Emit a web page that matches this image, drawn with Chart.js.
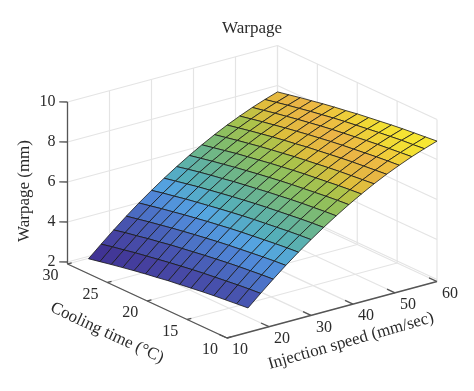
<!DOCTYPE html>
<html lang="en">
<head>
  <meta charset="UTF-8">
  <title>Warpage</title>
  <script src="https://cdn.jsdelivr.net/npm/chart.js"></script>
  <style>
    html, body { margin:0; padding:0; background:#fff; }
    canvas { display:block; }
  </style>
</head>
<body>
<canvas id="surface" width="474" height="391"></canvas>

<script>
// Axis ticks
const injectionTicks = [10, 20, 30, 40, 50, 60];
const coolingTicks = [10, 15, 20, 25, 30];
const warpageTicks = [2, 4, 6, 8, 10];

// Surface grid, values
const injectionSpeed = [15, 18, 21, 24, 27, 30, 33, 36, 39, 42, 45, 48, 51, 54, 57, 60];
const coolingTime = [30, 28.57, 27.14, 25.71, 24.29, 22.86, 21.43, 20, 18.57, 17.14, 15.71, 14.29, 12.86, 11.43, 10];
const warpage = [
  [1.88,2.44,2.98,3.50,3.99,4.45,4.89,5.30,5.69,6.05,6.39,6.70,6.98,7.24,7.47,7.68],
  [2.00,2.57,3.11,3.62,4.11,4.58,5.01,5.43,5.81,6.17,6.51,6.82,7.10,7.36,7.59,7.80],
  [2.12,2.68,3.22,3.74,4.23,4.69,5.13,5.55,5.93,6.29,6.63,6.94,7.22,7.48,7.71,7.92],
  [2.23,2.80,3.34,3.85,4.34,4.81,5.25,5.66,6.04,6.41,6.74,7.05,7.33,7.59,7.82,8.03],
  [2.34,2.90,3.44,3.96,4.45,4.91,5.35,5.76,6.15,6.51,6.85,7.16,7.44,7.70,7.93,8.14],
  [2.44,3.00,3.55,4.06,4.55,5.01,5.45,5.87,6.25,6.61,6.95,7.26,7.54,7.80,8.03,8.24],
  [2.53,3.10,3.64,4.16,4.65,5.11,5.55,5.96,6.35,6.71,7.04,7.35,7.64,7.90,8.13,8.33],
  [2.63,3.19,3.73,4.25,4.74,5.20,5.64,6.05,6.44,6.80,7.14,7.45,7.73,7.99,8.22,8.43],
  [2.71,3.28,3.82,4.34,4.83,5.29,5.73,6.14,6.53,6.89,7.22,7.53,7.82,8.07,8.30,8.51],
  [2.79,3.36,3.90,4.42,4.91,5.37,5.81,6.22,6.61,6.97,7.30,7.61,7.90,8.15,8.38,8.59],
  [2.87,3.43,3.98,4.49,4.98,5.44,5.88,6.30,6.68,7.04,7.38,7.69,7.97,8.23,8.46,8.67],
  [2.94,3.50,4.05,4.56,5.05,5.51,5.95,6.37,6.75,7.11,7.45,7.76,8.04,8.30,8.53,8.74],
  [3.00,3.57,4.11,4.63,5.12,5.58,6.02,6.43,6.82,7.18,7.51,7.82,8.11,8.36,8.60,8.80],
  [3.06,3.63,4.17,4.69,5.18,5.64,6.08,6.49,6.88,7.24,7.57,7.88,8.17,8.42,8.65,8.86],
  [3.12,3.68,4.22,4.74,5.23,5.69,6.13,6.54,6.93,7.29,7.63,7.94,8.22,8.48,8.71,8.92]
];

// Colour by height: parula with the orange glare of the lit part
const colourHeights = [1.9, 2.7, 3.5, 4.3, 4.8, 5.3, 5.9, 6.5, 7.0, 7.35, 7.9, 8.2, 8.5, 9];
const colourStops = [
  [60,42,140],[70,65,160],[72,90,180],[80,135,215],[85,165,225],[85,175,185],[105,180,145],
  [135,190,100],[170,195,75],[222,190,60],[235,180,70],[238,200,60],[242,222,52],[250,238,48]
];

const zFloor = 1.9, zTop = 10;

// Orthographic view of the box, measured from the corner inj=10 / cool=10 / floor
function project(inj, cool, z) {
  const a = (inj - 10) / 50, b = (cool - 10) / 20;
  return {
    x: 227 + a * 210 - b * 159.5,
    y: 338 - a * 56.5 - b * 74 - (z - zFloor) * 20
  };
}

function colourFor(z) {
  let i = 0;
  while (i < colourHeights.length - 2 && z > colourHeights[i + 1]) i++;
  const t = Math.min(1, Math.max(0, (z - colourHeights[i]) / (colourHeights[i + 1] - colourHeights[i])));
  const c = colourStops[i].map((v, k) => Math.round(v + (colourStops[i + 1][k] - v) * t));
  return `rgb(${c[0]},${c[1]},${c[2]})`;
}

function line(a, b, colour, width, order) {
  return { data:[a, b], showLine:true, fill:false, borderColor:colour, borderWidth:width, pointRadius:0, order };
}

const datasets = [];
const gridColour = '#e4e4e4', axisColour = '#555';

// Box grid
warpageTicks.forEach(z => {
  datasets.push(line(project(10, 30, z), project(60, 30, z), gridColour, 1.2, 10));
  datasets.push(line(project(60, 30, z), project(60, 10, z), gridColour, 1.2, 10));
});
injectionTicks.forEach(v => {
  datasets.push(line(project(v, 30, zFloor), project(v, 30, zTop), gridColour, 1.2, 10));
  datasets.push(line(project(v, 10, zFloor), project(v, 30, zFloor), gridColour, 1.2, 10));
});
coolingTicks.forEach(c => {
  datasets.push(line(project(60, c, zFloor), project(60, c, zTop), gridColour, 1.2, 10));
  datasets.push(line(project(10, c, zFloor), project(60, c, zFloor), gridColour, 1.2, 10));
});

// Surface cells, far ones first
for (let j = 0; j < coolingTime.length - 1; j++) {
  for (let i = injectionSpeed.length - 2; i >= 0; i--) {
    const z = (warpage[j][i] + warpage[j][i+1] + warpage[j+1][i] + warpage[j+1][i+1]) / 4;
    const p = project(injectionSpeed[i], coolingTime[j], warpage[j][i]);
    datasets.push({
      data: [
        p,
        project(injectionSpeed[i+1], coolingTime[j], warpage[j][i+1]),
        project(injectionSpeed[i+1], coolingTime[j+1], warpage[j+1][i+1]),
        project(injectionSpeed[i], coolingTime[j+1], warpage[j+1][i]),
        p
      ],
      showLine: true,
      fill: 'shape',
      backgroundColor: colourFor(z),
      borderColor: 'rgba(25,25,25,.8)',
      borderWidth: 1,
      pointRadius: 0,
      order: 5 - j * 0.1 - (15 - i) * 0.001
    });
  }
}

// Axes and their tick marks
datasets.push(line(project(10, 30, zFloor), project(10, 30, zTop), axisColour, 1.3, 1));
datasets.push(line(project(10, 30, zFloor), project(10, 10, zFloor), axisColour, 1.3, 1));
datasets.push(line(project(10, 10, zFloor), project(60, 10, zFloor), axisColour, 1.3, 1));
warpageTicks.forEach(z => datasets.push(line(project(10, 30, z), project(8.8, 30.4, z), axisColour, 1.3, 1)));
injectionTicks.forEach(v => datasets.push(line(project(v, 10, zFloor), project(v, 11, zFloor), axisColour, 1.3, 1)));
coolingTicks.forEach(c => datasets.push(line(project(10, c, zFloor), project(11, c, zFloor), axisColour, 1.3, 1)));

// Tick labels and axis titles go on top, the scales are only used for mapping
const textPlugin = {
  id: 'boxText',
  afterDraw(chart) {
    const ctx = chart.ctx, xs = chart.scales.x, ys = chart.scales.y;
    const put = (text, x, y, size, angle, align) => {
      ctx.save();
      ctx.translate(xs.getPixelForValue(x), ys.getPixelForValue(y));
      ctx.rotate((angle || 0) * Math.PI / 180);
      ctx.font = `${size}px "Liberation Serif", serif`;
      ctx.fillStyle = '#2b2b2b';
      ctx.textAlign = align || 'center';
      ctx.textBaseline = 'middle';
      ctx.fillText(text, 0, 0);
      ctx.restore();
    };
    warpageTicks.forEach(z => {
      const p = project(10, 30, z);
      put(String(z), p.x - 12, p.y, 16, 0, 'right');
    });
    injectionTicks.forEach(v => {
      const p = project(v, 10, zFloor);
      put(String(v), p.x + 13, p.y + 12, 16);
    });
    coolingTicks.forEach(c => {
      const p = project(10, c, zFloor);
      put(String(c), p.x - 17, p.y + 12, 16);
    });
    put('Warpage', 252, 29, 17);
    put('Warpage (mm)', 25, 191, 17, -90);
    put('Cooling time (°C)', 107, 333, 17, 25);
    put('Injection speed (mm/sec)', 351, 341, 17, -16);
  }
};

new Chart(document.getElementById('surface'), {
  type: 'scatter',
  data: { datasets },
  plugins: [textPlugin],
  options: {
    responsive: false,
    animation: false,
    events: [],
    layout: { padding: 0 },
    plugins: { legend: { display:false }, tooltip: { enabled:false }, title: { display:false } },
    scales: {
      x: { type:'linear', display:false, min:0, max:474 },
      y: { type:'linear', display:false, min:0, max:391, reverse:true }
    }
  }
});
</script>
</body>
</html>
